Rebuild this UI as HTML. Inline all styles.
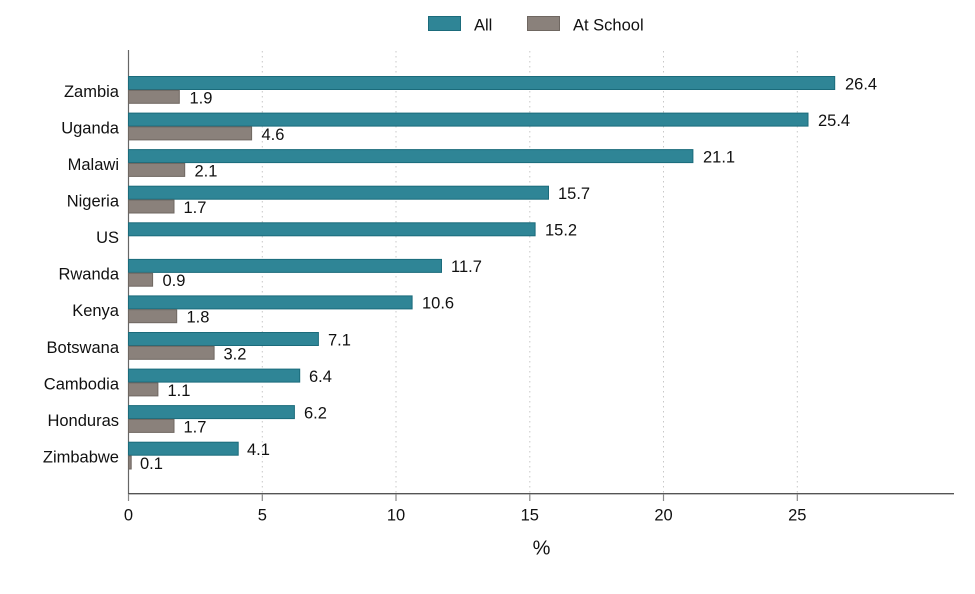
<!DOCTYPE html>
<html><head><meta charset="utf-8"><style>
html,body{margin:0;padding:0;background:#fff;}
svg{display:block;}
text{font-family:"Liberation Sans",Arial,sans-serif;fill:#111;}
</style></head><body>
<svg width="975" height="594" viewBox="0 0 975 594" xmlns="http://www.w3.org/2000/svg">
<!-- legend -->
<rect x="428.5" y="16.5" width="32" height="14" fill="#2f8596" stroke="#1b6b7b" stroke-width="1"/>
<text x="474" y="30.5" font-size="16.5">All</text>
<rect x="527.5" y="16.5" width="32" height="14" fill="#8a817b" stroke="#6f6761" stroke-width="1"/>
<text x="573" y="30.5" font-size="16.5">At School</text>
<!-- grid -->
<g stroke="#c8c8c8" stroke-width="1" stroke-dasharray="1.5,3.5">
<line x1="262.3" y1="51" x2="262.3" y2="493"/>
<line x1="396" y1="51" x2="396" y2="493"/>
<line x1="529.8" y1="51" x2="529.8" y2="493"/>
<line x1="663.5" y1="51" x2="663.5" y2="493"/>
<line x1="797.3" y1="51" x2="797.3" y2="493"/>
</g>
<!-- axes -->
<line x1="128.5" y1="50" x2="128.5" y2="494" stroke="#666" stroke-width="1.2"/>
<line x1="128" y1="493.7" x2="954" y2="493.7" stroke="#555" stroke-width="1.4"/>
<g stroke="#888" stroke-width="1.2">
<line x1="128.5" y1="494" x2="128.5" y2="501"/>
<line x1="262.3" y1="494" x2="262.3" y2="501"/>
<line x1="396" y1="494" x2="396" y2="501"/>
<line x1="529.8" y1="494" x2="529.8" y2="501"/>
<line x1="663.5" y1="494" x2="663.5" y2="501"/>
<line x1="797.3" y1="494" x2="797.3" y2="501"/>
</g>
<g font-size="16.5" text-anchor="middle">
<text x="128.5" y="520.5">0</text>
<text x="262.3" y="520.5">5</text>
<text x="396" y="520.5">10</text>
<text x="529.8" y="520.5">15</text>
<text x="663.5" y="520.5">20</text>
<text x="797.3" y="520.5">25</text>
<text x="541.5" y="554.5" font-size="20">%</text>
</g>
<g font-size="16.5">
<!-- Zambia top 76 -->
<rect x="128.5" y="76.5" width="706.2" height="13" fill="#2f8596" stroke="#1b6b7b"/>
<rect x="128.5" y="90.3" width="50.8" height="13" fill="#8a817b" stroke="#6f6761"/>
<text x="845" y="89.3">26.4</text><text x="189.5" y="103.3">1.9</text>
<text x="119" y="96.8" text-anchor="end">Zambia</text>
<!-- Uganda 112.6 -->
<rect x="128.5" y="113.1" width="679.5" height="13" fill="#2f8596" stroke="#1b6b7b"/>
<rect x="128.5" y="126.9" width="123.1" height="13" fill="#8a817b" stroke="#6f6761"/>
<text x="818" y="125.9">25.4</text><text x="261.5" y="139.9">4.6</text>
<text x="119" y="133.4" text-anchor="end">Uganda</text>
<!-- Malawi 149.1 -->
<rect x="128.5" y="149.6" width="564.4" height="13" fill="#2f8596" stroke="#1b6b7b"/>
<rect x="128.5" y="163.4" width="56.2" height="13" fill="#8a817b" stroke="#6f6761"/>
<text x="703" y="162.4">21.1</text><text x="194.5" y="176.4">2.1</text>
<text x="119" y="169.9" text-anchor="end">Malawi</text>
<!-- Nigeria 185.7 -->
<rect x="128.5" y="186.2" width="420" height="13" fill="#2f8596" stroke="#1b6b7b"/>
<rect x="128.5" y="200" width="45.5" height="13" fill="#8a817b" stroke="#6f6761"/>
<text x="558" y="199">15.7</text><text x="183.5" y="213">1.7</text>
<text x="119" y="206.5" text-anchor="end">Nigeria</text>
<!-- US 222.3 -->
<rect x="128.5" y="222.8" width="406.6" height="13" fill="#2f8596" stroke="#1b6b7b"/>
<text x="545" y="235.6">15.2</text>
<text x="119" y="243.1" text-anchor="end">US</text>
<!-- Rwanda 258.9 -->
<rect x="128.5" y="259.4" width="313" height="13" fill="#2f8596" stroke="#1b6b7b"/>
<rect x="128.5" y="273.2" width="24.1" height="13" fill="#8a817b" stroke="#6f6761"/>
<text x="451" y="272.2">11.7</text><text x="162.5" y="286.2">0.9</text>
<text x="119" y="279.7" text-anchor="end">Rwanda</text>
<!-- Kenya 295.4 -->
<rect x="128.5" y="295.9" width="283.6" height="13" fill="#2f8596" stroke="#1b6b7b"/>
<rect x="128.5" y="309.7" width="48.2" height="13" fill="#8a817b" stroke="#6f6761"/>
<text x="422" y="308.7">10.6</text><text x="186.5" y="322.7">1.8</text>
<text x="119" y="316.2" text-anchor="end">Kenya</text>
<!-- Botswana 332 -->
<rect x="128.5" y="332.5" width="189.9" height="13" fill="#2f8596" stroke="#1b6b7b"/>
<rect x="128.5" y="346.3" width="85.6" height="13" fill="#8a817b" stroke="#6f6761"/>
<text x="328" y="345.3">7.1</text><text x="223.5" y="359.3">3.2</text>
<text x="119" y="352.8" text-anchor="end">Botswana</text>
<!-- Cambodia 368.6 -->
<rect x="128.5" y="369.1" width="171.2" height="13" fill="#2f8596" stroke="#1b6b7b"/>
<rect x="128.5" y="382.9" width="29.4" height="13" fill="#8a817b" stroke="#6f6761"/>
<text x="309" y="381.9">6.4</text><text x="167.5" y="395.9">1.1</text>
<text x="119" y="389.4" text-anchor="end">Cambodia</text>
<!-- Honduras 405.1 -->
<rect x="128.5" y="405.6" width="165.9" height="13" fill="#2f8596" stroke="#1b6b7b"/>
<rect x="128.5" y="419.4" width="45.5" height="13" fill="#8a817b" stroke="#6f6761"/>
<text x="304" y="418.4">6.2</text><text x="183.5" y="432.4">1.7</text>
<text x="119" y="425.9" text-anchor="end">Honduras</text>
<!-- Zimbabwe 441.7 -->
<rect x="128.5" y="442.2" width="109.7" height="13" fill="#2f8596" stroke="#1b6b7b"/>
<rect x="128.5" y="456" width="2.7" height="13" fill="#8a817b" stroke="#6f6761"/>
<text x="247" y="455">4.1</text><text x="140" y="469">0.1</text>
<text x="119" y="462.5" text-anchor="end">Zimbabwe</text>
</g>
</svg>
</body></html>
